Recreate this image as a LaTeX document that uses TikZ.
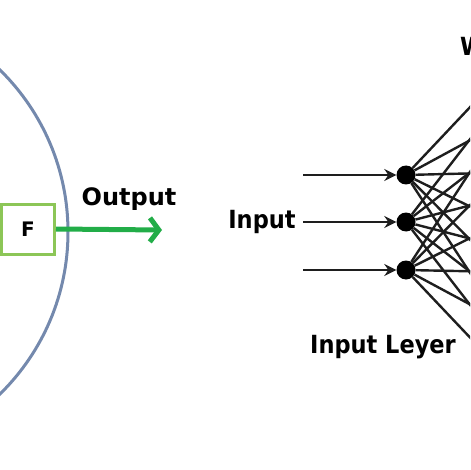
\documentclass[tikz,border=0pt]{standalone}
\usepackage{fontspec}
\setmainfont{DejaVu Sans}
\newfontfamily\condfont{DejaVu Sans Condensed}
\usetikzlibrary{arrows.meta}
\definecolor{circblue}{HTML}{7489AD}
\definecolor{boxgreen}{HTML}{8CC657}
\definecolor{arrgreen}{HTML}{22AD48}
\definecolor{inkgray}{HTML}{1E1E1E}
\tikzset{
  neuroncirc/.style={draw=circblue, line width=3pt},
  fbox/.style={draw=boxgreen, line width=3pt, minimum width=53pt, minimum height=50pt, inner sep=0pt, font=\bfseries\fontsize{20}{24}\selectfont},
  garrow/.style={draw=arrgreen, line width=5pt, -{Straight Barb[length=9pt,width=24pt,line width=5pt]}},
  outlbl/.style={font=\bfseries\fontsize{24}{28}\selectfont, text=black, inner sep=0pt},
  condlbl/.style={font=\condfont\bfseries\fontsize{25}{30}\selectfont, text=black, inner sep=0pt},
  indot/.style={circle, fill=black, minimum size=19pt, inner sep=0pt},
  hidnode/.style={circle, fill=black, minimum size=19pt, inner sep=0pt},
  inarrow/.style={draw=inkgray, line width=2.2pt, -{Stealth[length=12pt,width=12pt,inset=4pt]}},
  wire/.style={draw=inkgray, line width=2.4pt}
}
\begin{document}
\begin{tikzpicture}[x=1pt,y=-1pt]
\useasboundingbox (0,0) rectangle (470,470);
\clip (0,0) rectangle (470,470);
% neuron body
\draw[neuroncirc] (-159,232) circle (227);
\node[fbox] (F) at (28,229) {F};
\coordinate (outend) at (162,230);
\draw[garrow] (F.east) -- (outend);
\node[outlbl] (outtxt) at (129,199) {Output};
% network
\node[indot] (in1) at (406,175) {};
\node[indot] (in2) at (406,222) {};
\node[indot] (in3) at (406,270) {};
\foreach \k in {1,...,6}{
  \node[hidnode] (h\k) at (607,{-38+104*(\k-1)}) {};
}
\foreach \i in {1,2,3}{
  \foreach \k in {1,...,6}{
    \draw[wire] (in\i) -- (h\k);
  }
}
\coordinate (s1) at (303,175);
\coordinate (s2) at (303,222);
\coordinate (s3) at (303,270);
\draw[inarrow] (s1) -- (in1);
\draw[inarrow] (s2) -- (in2);
\draw[inarrow] (s3) -- (in3);
\node[condlbl] (inputtxt) at (262,222) {Input};
\node[condlbl] (layertxt) at (383,347) {Input Leyer};
\node[condlbl, anchor=west] (wtxt) at (460,46) {W};
\end{tikzpicture}
\end{document}
